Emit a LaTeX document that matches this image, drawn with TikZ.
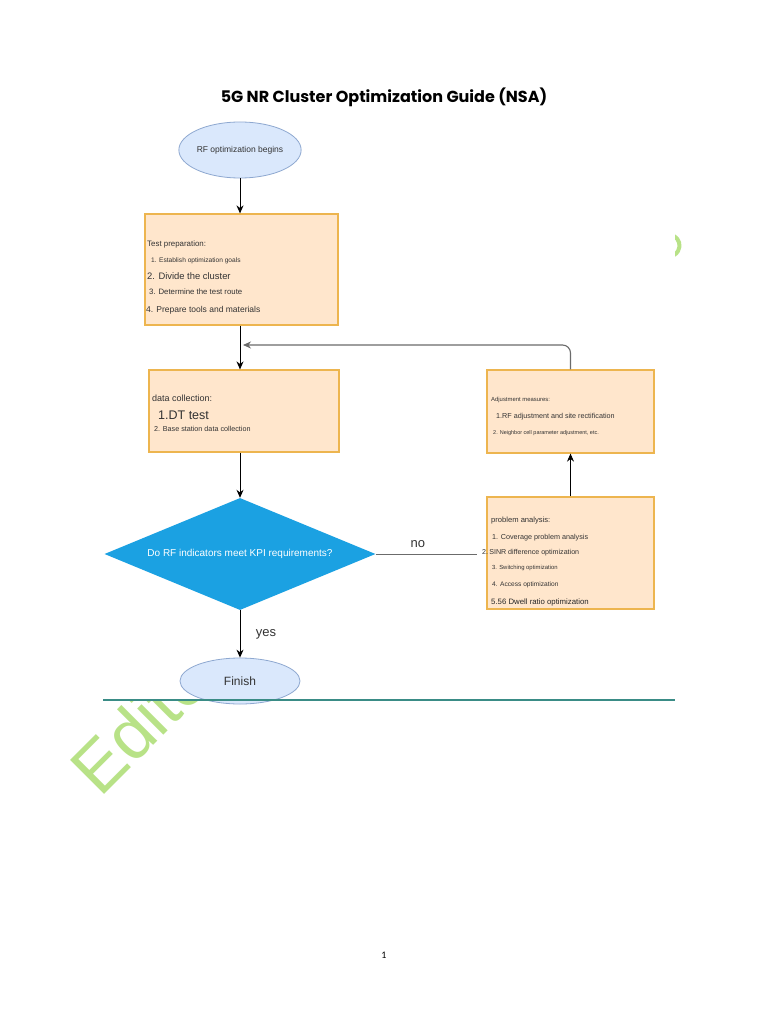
\documentclass[tikz,border=0pt]{standalone}
\usepackage{fontspec}
\setmainfont{Liberation Sans}
\newfontfamily\titlefont{Poppins}
\newfontfamily\pagefont{Carlito}
\usetikzlibrary{shapes.geometric,arrows.meta}
\definecolor{peach}{HTML}{FFE6CC}
\definecolor{boxline}{HTML}{EDB54F}
\definecolor{startfill}{HTML}{DAE8FC}
\definecolor{startline}{HTML}{8EA8D0}
\definecolor{kpiblue}{HTML}{1BA1E2}
\definecolor{txt}{HTML}{333333}
\definecolor{backgray}{HTML}{6B6B6B}
\definecolor{rulecol}{HTML}{3A8C86}
\definecolor{wmgreen}{HTML}{B8E287}
\newcommand{\fs}[1]{\fontsize{#1}{#1}\selectfont}
\begin{document}
\begin{tikzpicture}[x=1pt, y=-1pt,
    terminal/.style = {ellipse, draw=startline, fill=startfill, line width=0.8pt, inner sep=0pt, text=txt},
    stagebox/.style = {rectangle, draw=boxline, fill=peach, line width=1.2pt, inner sep=0pt},
    decision/.style = {diamond, aspect=2.42, fill=kpiblue, inner sep=0pt, text=white},
    entry/.style = {anchor=base west, inner sep=0pt, text=txt},
    flow/.style = {-{Stealth[length=8pt,width=7pt]}, line width=0.9pt},
    back/.style = {-{Stealth[length=8pt,width=7pt]}, draw=backgray, line width=1.1pt, rounded corners=8pt}]
    \useasboundingbox (0,0) rectangle (768,1024);
    \fill[white] (0,0) rectangle (768,1024);
    % watermark, partly under the chart
    \node[anchor=base west, inner sep=0pt, rotate=45, text=wmgreen, font=\fs{70}] (wm) at (100,799) {Edite};
    \draw[wmgreen, line width=4pt] (674,236) arc (-60:60:11);
    \fill[white] (103,115) rectangle (675,699);

    \node[font=\titlefont\bfseries\fs{16}, text=black] (title) at (384,97) {5G NR Cluster Optimization Guide (NSA)};

    \node[terminal, minimum width=118pt, minimum height=56pt, font=\fs{8.5}] (start) at (240,150) {RF optimization begins};
    \node[stagebox, minimum width=193pt, minimum height=111pt] (prep) at (241.5,269.5) {};
    \node[stagebox, minimum width=190pt, minimum height=82pt] (collect) at (244,411) {};
    \node[decision, minimum width=271pt, minimum height=112pt, font=\fs{10}] (check) at (240,554) {Do RF indicators meet KPI requirements?};
    \node[terminal, minimum width=120pt, minimum height=46pt, font=\fs{12}] (finish) at (240,681) {Finish};
    \node[stagebox, minimum width=167pt, minimum height=83pt] (adjust) at (570.5,411.5) {};
    \node[stagebox, minimum width=167pt, minimum height=112pt] (analysis) at (570.5,553) {};

    \node[entry, font=\fs{7.9}] (prep0) at (147,246) {Test preparation:};
    \node[entry, font=\fs{6.6}] (prep1) at (151,262) {1. Establish optimization goals};
    \node[entry, font=\fs{9.4}] (prep2) at (147,279.5) {2. Divide the cluster};
    \node[entry, font=\fs{7.8}] (prep3) at (149,294) {3. Determine the test route};
    \node[entry, font=\fs{8.5}] (prep4) at (146,312) {4. Prepare tools and materials};

    \node[entry, font=\fs{9}] (collect0) at (152,401) {data collection:};
    \node[entry, font=\fs{12.5}] (collect1) at (158,419.5) {1.DT test};
    \node[entry, font=\fs{7.2}] (collect2) at (154,431.5) {2. Base station data collection};

    \node[entry, font=\fs{5.9}] (adjust0) at (491,401) {Adjustment measures:};
    \node[entry, font=\fs{7.2}] (adjust1) at (496,418.5) {1.RF adjustment and site rectification};
    \node[entry, font=\fs{5.5}] (adjust2) at (493,434) {2. Neighbor cell parameter adjustment, etc.};

    \node[entry, font=\fs{7.6}] (analysis0) at (491,522.5) {problem analysis:};
    \node[entry, font=\fs{7.2}] (analysis1) at (492,539.5) {1. Coverage problem analysis};
    \node[entry, font=\fs{7.1}] (analysis2) at (482,554.5) {2.\,SINR difference optimization};
    \node[entry, font=\fs{5.9}] (analysis3) at (492,569) {3. Switching optimization};
    \node[entry, font=\fs{6.6}] (analysis4) at (492,586) {4. Access optimization};
    \node[entry, font=\fs{7.8}, text=black!85] (analysis5) at (491,604.5) {5.56 Dwell ratio optimization};

    \draw[flow] (start.south) -- (start.south |- prep.north);
    \draw[flow] (start.south |- prep.south) -- (start.south |- collect.north);
    \draw[flow] (start.south |- collect.south) -- (check.north);
    \draw[flow] (check.south) -- node[right=12pt, font=\fs{13}, text=txt] (yes) {yes} (finish.north);
    \draw[backgray, line width=1pt, shorten >=9pt] (check.east) -- node[pos=0.38, above=3pt, font=\fs{13}, text=txt] (no) {no} (check.east -| analysis.west);
    \draw[flow] (analysis.north) -- (adjust.south);
    \coordinate (merge) at (243,345);
    \draw[back] (adjust.north) |- (merge);

    \draw[rulecol, line width=1.2pt] (103,700) -- (675,700);
    \node[font=\pagefont\fs{10}] (page) at (384,955) {1};
\end{tikzpicture}
\end{document}
